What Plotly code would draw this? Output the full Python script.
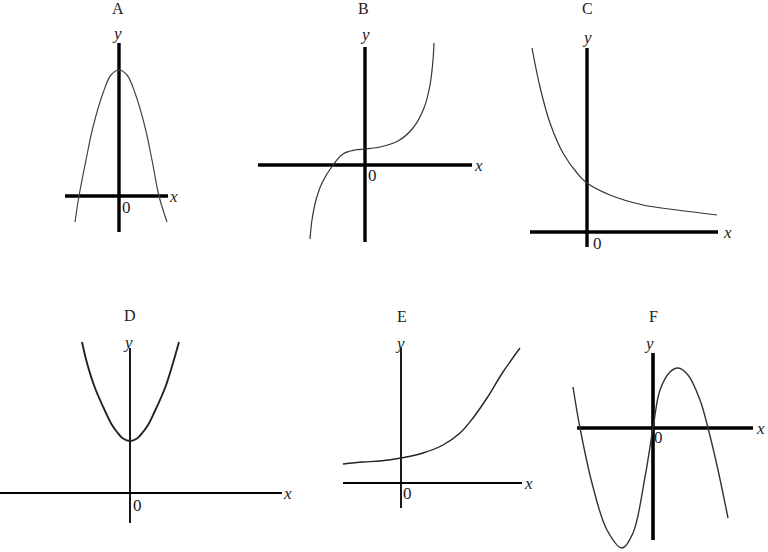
import plotly.graph_objects as go

# six sketch graphs
# each curve uses its own origin at (0, 0); 1 unit ~ 10 px on the page

names = ["A", "B", "C", "D", "E", "F"]

A_x = [-4.4, -4.0, -3.3, -2.6, -1.6, -0.8, 0, 0.8, 1.6, 2.6, 3.3, 4.0, 4.8]
A_y = [-2.6, 0, 3.6, 6.9, 10.3, 12.1, 12.6, 12.1, 10.3, 6.9, 3.6, 0, -2.6]

B_x = [-5.5, -5.3, -4.9, -4.3, -3.2, -2.2, -1.0, 0, 1.5, 3.3, 4.8, 5.9, 6.5, 6.8, 6.9]
B_y = [-7.4, -5.5, -3.5, -1.8, 0, 1.1, 1.5, 1.6, 1.8, 2.4, 3.7, 5.7, 8.0, 10.5, 12.2]

C_x = [-5.5, -4.7, -3.7, -2.4, -1.0, 0, 2.3, 5.6, 9.0, 13.0]
C_y = [18.4, 14.5, 10.9, 7.9, 5.9, 4.9, 3.7, 2.7, 2.2, 1.7]

D_x = [-4.8, -4.3, -3.5, -2.4, -1.8, -1.3, -0.7, 0, 0.7, 1.3, 1.8, 2.4, 3.5, 4.3, 4.9]
D_y = [15.1, 13.0, 10.5, 8.0, 6.8, 6.1, 5.45, 5.2, 5.45, 6.1, 6.8, 8.0, 10.5, 13.0, 15.1]

E_x = [-5.8, -3.8, -2.1, 0, 2.2, 4.2, 5.9, 7.2, 8.6, 10.2, 11.9]
E_y = [1.9, 2.1, 2.2, 2.5, 3.0, 3.8, 5.0, 6.5, 8.5, 11.1, 13.5]

F_x = [-8.0, -7.3, -6.0, -4.6, -3.1, -2.0, -0.8, 0, 0.7, 1.7, 2.5, 3.5, 4.7, 5.5, 6.5, 7.5]
F_y = [4.1, 0, -5.9, -10.2, -12.0, -10.5, -4.9, 0, 3.8, 5.6, 6.0, 5.3, 2.8, 0, -4.2, -9.0]

curves_x = [A_x, B_x, C_x, D_x, E_x, F_x]
curves_y = [A_y, B_y, C_y, D_y, E_y, F_y]

# where each drawn axis starts and stops
x_axis_ends = [(-5.4, 4.9), (-10.7, 10.7), (-5.7, 13.1), (-13.0, 15.2), (-5.8, 12.1), (-7.6, 10.0)]
y_axis_ends = [(-3.6, 15.3), (-7.7, 11.8), (-1.5, 18.4), (-3.0, 14.5), (-2.5, 13.5), (-11.2, 7.5)]

# page layout: origin pixel of each sketch, and line weights
W, H, S = 768, 552, 10
origins = [(119, 196), (365, 165), (587, 232), (130, 493), (401, 483), (653, 428)]
axis_w = [3.4, 3.4, 3.4, 1.8, 1.8, 3.6]
curve_w = [1.2, 1.2, 1.2, 1.9, 1.4, 1.4]
curve_c = ["#444", "#333", "#333", "#222", "#222", "#333"]
# label spots in each sketch's own units: title letter, y, x, zero
title_pos = [(-0.1, 18.8), (-0.2, 15.7), (0, 22.4), (0, 17.8), (0.1, 16.7), (0, 11.2)]
ylab_pos = [(-0.2, 16.3), (0, 13.1), (0, 19.5), (-0.2, 15.1), (-0.1, 14.0), (-0.4, 8.5)]
xlab_pos = [(5.4, 0), (11.3, 0), (14.0, 0), (15.7, 0), (12.7, 0), (10.7, 0)]
zero_pos = [(0.7, -1.1), (0.7, -1.0), (1.0, -1.1), (0.7, -1.2), (0.6, -1.0), (0.5, -0.9)]

serif = "Liberation Serif, Times New Roman, serif"

fig = go.Figure()
layout = {}
annotations = []

for i in range(6):
    n = "" if i == 0 else str(i + 1)
    xr, yr = "x" + n, "y" + n
    ox, oy = origins[i]
    oyb = H - oy

    # box around the sketch, then domain on the page with the same scale everywhere
    xlo = min(x_axis_ends[i][0], min(curves_x[i])) - 1.0
    xhi = xlab_pos[i][0] + 1.5
    ylo = min(y_axis_ends[i][0], min(curves_y[i])) - 1.0
    yhi = title_pos[i][1] + 1.5
    dx0 = max(0, (ox + xlo * S) / W)
    dx1 = min(1, (ox + xhi * S) / W)
    dy0 = max(0, (oyb + ylo * S) / H)
    dy1 = min(1, (oyb + yhi * S) / H)
    rx = [(dx0 * W - ox) / S, (dx1 * W - ox) / S]
    ry = [(dy0 * H - oyb) / S, (dy1 * H - oyb) / S]

    layout["xaxis" + n] = dict(domain=[dx0, dx1], range=rx, visible=False, fixedrange=True, anchor=yr)
    layout["yaxis" + n] = dict(domain=[dy0, dy1], range=ry, visible=False, fixedrange=True, anchor=xr)

    # the drawn axes
    fig.add_trace(go.Scatter(x=list(x_axis_ends[i]), y=[0, 0], mode="lines", xaxis=xr, yaxis=yr,
                             line=dict(color="black", width=axis_w[i]), cliponaxis=False,
                             hoverinfo="skip", showlegend=False))
    fig.add_trace(go.Scatter(x=[0, 0], y=list(y_axis_ends[i]), mode="lines", xaxis=xr, yaxis=yr,
                             line=dict(color="black", width=axis_w[i]), cliponaxis=False,
                             hoverinfo="skip", showlegend=False))
    # the curve
    fig.add_trace(go.Scatter(x=curves_x[i], y=curves_y[i], mode="lines", xaxis=xr, yaxis=yr,
                             line=dict(color=curve_c[i], width=curve_w[i], shape="spline", smoothing=1.0),
                             cliponaxis=False, name=names[i], showlegend=False))

    labels = [
        (title_pos[i], names[i], 16),
        (ylab_pos[i], "<i>y</i>", 17),
        (xlab_pos[i], "<i>x</i>", 17),
        (zero_pos[i], "0", 17),
    ]
    for (px, py), txt, size in labels:
        annotations.append(dict(x=px, y=py, xref=xr, yref=yr, text=txt, showarrow=False,
                                xanchor="center", yanchor="middle",
                                font=dict(family=serif, size=size, color="#222")))

fig.update_layout(**layout)
fig.update_layout(width=W, height=H, margin=dict(l=0, r=0, t=0, b=0),
                  paper_bgcolor="white", plot_bgcolor="white",
                  annotations=annotations, showlegend=False)

# the page body has an 8px margin by default; drop it so the figure fills the window
fig.write_html("out.html", config={"displayModeBar": False},
               post_script="document.body.style.margin = '0';")
